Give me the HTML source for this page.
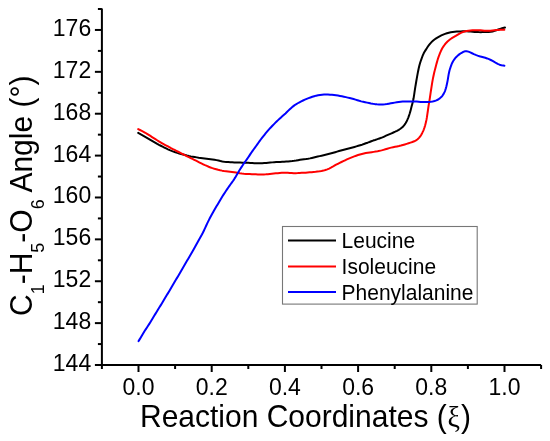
<!DOCTYPE html>
<html><head><meta charset="utf-8"><style>
html,body{margin:0;padding:0;background:#fff;}
svg{display:block;}
.tl{font-family:"Liberation Sans",sans-serif;font-size:23px;fill:#000;}
.ti{font-family:"Liberation Sans",sans-serif;font-size:30px;fill:#000;}
.lg{font-family:"Liberation Sans",sans-serif;font-size:21px;fill:#000;}
</style></head><body>
<svg width="550" height="441" viewBox="0 0 550 441">
<rect width="550" height="441" fill="#fff"/>
<line x1="101.10" y1="365.0" x2="541.10" y2="365.0" stroke="#000" stroke-width="2"/>
<line x1="101.90" y1="8.42" x2="101.90" y2="365.0" stroke="#000" stroke-width="2"/>
<line x1="94.90" y1="365.00" x2="101.90" y2="365.00" stroke="#000" stroke-width="2"/>
<text transform="translate(91.20,371.00) scale(1,1.04)" text-anchor="end" class="tl">144</text>
<line x1="97.90" y1="344.06" x2="101.90" y2="344.06" stroke="#000" stroke-width="2"/>
<line x1="94.90" y1="323.12" x2="101.90" y2="323.12" stroke="#000" stroke-width="2"/>
<text transform="translate(91.20,329.12) scale(1,1.04)" text-anchor="end" class="tl">148</text>
<line x1="97.90" y1="302.18" x2="101.90" y2="302.18" stroke="#000" stroke-width="2"/>
<line x1="94.90" y1="281.24" x2="101.90" y2="281.24" stroke="#000" stroke-width="2"/>
<text transform="translate(91.20,287.24) scale(1,1.04)" text-anchor="end" class="tl">152</text>
<line x1="97.90" y1="260.30" x2="101.90" y2="260.30" stroke="#000" stroke-width="2"/>
<line x1="94.90" y1="239.36" x2="101.90" y2="239.36" stroke="#000" stroke-width="2"/>
<text transform="translate(91.20,245.36) scale(1,1.04)" text-anchor="end" class="tl">156</text>
<line x1="97.90" y1="218.42" x2="101.90" y2="218.42" stroke="#000" stroke-width="2"/>
<line x1="94.90" y1="197.48" x2="101.90" y2="197.48" stroke="#000" stroke-width="2"/>
<text transform="translate(91.20,203.48) scale(1,1.04)" text-anchor="end" class="tl">160</text>
<line x1="97.90" y1="176.54" x2="101.90" y2="176.54" stroke="#000" stroke-width="2"/>
<line x1="94.90" y1="155.60" x2="101.90" y2="155.60" stroke="#000" stroke-width="2"/>
<text transform="translate(91.20,161.60) scale(1,1.04)" text-anchor="end" class="tl">164</text>
<line x1="97.90" y1="134.66" x2="101.90" y2="134.66" stroke="#000" stroke-width="2"/>
<line x1="94.90" y1="113.72" x2="101.90" y2="113.72" stroke="#000" stroke-width="2"/>
<text transform="translate(91.20,119.72) scale(1,1.04)" text-anchor="end" class="tl">168</text>
<line x1="97.90" y1="92.78" x2="101.90" y2="92.78" stroke="#000" stroke-width="2"/>
<line x1="94.90" y1="71.84" x2="101.90" y2="71.84" stroke="#000" stroke-width="2"/>
<text transform="translate(91.20,77.84) scale(1,1.04)" text-anchor="end" class="tl">172</text>
<line x1="97.90" y1="50.90" x2="101.90" y2="50.90" stroke="#000" stroke-width="2"/>
<line x1="94.90" y1="29.96" x2="101.90" y2="29.96" stroke="#000" stroke-width="2"/>
<text transform="translate(91.20,35.96) scale(1,1.04)" text-anchor="end" class="tl">176</text>
<line x1="97.90" y1="9.02" x2="101.90" y2="9.02" stroke="#000" stroke-width="2"/>
<line x1="101.90" y1="365.0" x2="101.90" y2="369.0" stroke="#000" stroke-width="2"/>
<line x1="138.50" y1="365.0" x2="138.50" y2="372.0" stroke="#000" stroke-width="2"/>
<text transform="translate(138.50,395.30) scale(1,1.04)" text-anchor="middle" class="tl">0.0</text>
<line x1="175.10" y1="365.0" x2="175.10" y2="369.0" stroke="#000" stroke-width="2"/>
<line x1="211.70" y1="365.0" x2="211.70" y2="372.0" stroke="#000" stroke-width="2"/>
<text transform="translate(211.70,395.30) scale(1,1.04)" text-anchor="middle" class="tl">0.2</text>
<line x1="248.30" y1="365.0" x2="248.30" y2="369.0" stroke="#000" stroke-width="2"/>
<line x1="284.90" y1="365.0" x2="284.90" y2="372.0" stroke="#000" stroke-width="2"/>
<text transform="translate(284.90,395.30) scale(1,1.04)" text-anchor="middle" class="tl">0.4</text>
<line x1="321.50" y1="365.0" x2="321.50" y2="369.0" stroke="#000" stroke-width="2"/>
<line x1="358.10" y1="365.0" x2="358.10" y2="372.0" stroke="#000" stroke-width="2"/>
<text transform="translate(358.10,395.30) scale(1,1.04)" text-anchor="middle" class="tl">0.6</text>
<line x1="394.70" y1="365.0" x2="394.70" y2="369.0" stroke="#000" stroke-width="2"/>
<line x1="431.30" y1="365.0" x2="431.30" y2="372.0" stroke="#000" stroke-width="2"/>
<text transform="translate(431.30,395.30) scale(1,1.04)" text-anchor="middle" class="tl">0.8</text>
<line x1="467.90" y1="365.0" x2="467.90" y2="369.0" stroke="#000" stroke-width="2"/>
<line x1="504.50" y1="365.0" x2="504.50" y2="372.0" stroke="#000" stroke-width="2"/>
<text transform="translate(504.50,395.30) scale(1,1.04)" text-anchor="middle" class="tl">1.0</text>
<line x1="541.10" y1="365.0" x2="541.10" y2="369.0" stroke="#000" stroke-width="2"/>
<path d="M138.20,132.90 L139.96,133.85 L141.71,134.81 L143.46,135.78 L145.20,136.77 L146.92,137.79 L148.64,138.81 L150.36,139.83 L152.08,140.85 L153.79,141.88 L155.50,142.92 L157.22,143.93 L158.98,144.88 L160.77,145.77 L162.57,146.65 L164.35,147.55 L166.14,148.44 L167.95,149.31 L169.77,150.13 L171.61,150.91 L173.48,151.62 L175.37,152.27 L177.27,152.87 L179.20,153.42 L181.13,153.94 L183.06,154.45 L184.99,154.98 L186.91,155.52 L188.84,156.01 L190.80,156.39 L192.77,156.71 L194.74,157.04 L196.71,157.39 L198.69,157.71 L200.67,157.97 L202.65,158.22 L204.63,158.50 L206.61,158.76 L208.60,159.00 L210.59,159.21 L212.57,159.45 L214.55,159.74 L216.51,160.11 L218.46,160.56 L220.40,161.02 L222.36,161.42 L224.33,161.74 L226.31,161.95 L228.30,162.06 L230.30,162.15 L232.30,162.27 L234.29,162.38 L236.29,162.47 L238.29,162.54 L240.29,162.61 L242.29,162.67 L244.29,162.74 L246.29,162.81 L248.28,162.87 L250.28,162.94 L252.28,163.03 L254.28,163.14 L256.27,163.26 L258.27,163.36 L260.26,163.37 L262.26,163.28 L264.25,163.12 L266.24,162.95 L268.23,162.77 L270.22,162.57 L272.21,162.37 L274.21,162.21 L276.20,162.09 L278.20,162.00 L280.20,161.91 L282.19,161.81 L284.19,161.69 L286.19,161.57 L288.18,161.43 L290.18,161.29 L292.17,161.11 L294.15,160.86 L296.12,160.55 L298.08,160.16 L300.04,159.79 L302.02,159.51 L304.00,159.30 L305.98,159.05 L307.96,158.74 L309.92,158.36 L311.87,157.92 L313.81,157.45 L315.76,156.99 L317.71,156.54 L319.66,156.12 L321.62,155.70 L323.57,155.27 L325.52,154.82 L327.46,154.34 L329.40,153.83 L331.32,153.31 L333.25,152.75 L335.16,152.18 L337.08,151.61 L339.00,151.06 L340.93,150.52 L342.86,150.00 L344.79,149.49 L346.72,148.97 L348.65,148.45 L350.59,147.95 L352.53,147.46 L354.46,146.94 L356.38,146.39 L358.30,145.82 L360.22,145.27 L362.12,144.69 L363.97,143.98 L365.79,143.27 L367.65,142.68 L369.48,142.02 L371.28,141.24 L373.12,140.58 L374.99,140.03 L376.85,139.37 L378.70,138.68 L380.58,138.05 L382.43,137.37 L384.25,136.55 L386.05,135.70 L387.88,134.89 L389.72,134.11 L391.56,133.32 L393.39,132.51 L395.21,131.69 L397.01,130.82 L398.75,129.86 L400.43,128.78 L401.99,127.57 L403.39,126.17 L404.63,124.62 L405.71,122.95 L406.68,121.21 L407.54,119.41 L408.31,117.57 L409.00,115.69 L409.62,113.79 L410.19,111.88 L410.72,109.95 L411.21,108.01 L411.70,106.07 L412.21,104.14 L412.71,102.20 L413.18,100.26 L413.57,98.30 L413.90,96.33 L414.20,94.35 L414.49,92.38 L414.79,90.40 L415.09,88.42 L415.41,86.45 L415.74,84.47 L416.07,82.50 L416.40,80.53 L416.74,78.56 L417.09,76.59 L417.46,74.62 L417.83,72.66 L418.21,70.69 L418.62,68.74 L419.08,66.79 L419.57,64.85 L420.11,62.93 L420.74,61.04 L421.41,59.15 L422.08,57.27 L422.78,55.40 L423.60,53.59 L424.56,51.85 L425.60,50.14 L426.65,48.44 L427.74,46.76 L428.90,45.14 L430.15,43.59 L431.49,42.11 L432.93,40.74 L434.48,39.48 L436.11,38.34 L437.81,37.30 L439.57,36.35 L441.36,35.46 L443.18,34.65 L445.04,33.91 L446.92,33.25 L448.84,32.69 L450.78,32.25 L452.75,31.94 L454.74,31.74 L456.73,31.60 L458.73,31.48 L460.73,31.38 L462.73,31.31 L464.72,31.28 L466.72,31.33 L468.72,31.44 L470.71,31.59 L472.70,31.77 L474.69,31.93 L476.69,32.05 L478.69,32.12 L480.69,32.13 L482.68,32.09 L484.68,32.04 L486.68,32.00 L488.68,31.95 L490.66,31.78 L492.61,31.43 L494.52,30.88 L496.41,30.22 L498.28,29.53 L500.17,28.86 L502.08,28.27 L504.01,27.75 L504.97,27.51" fill="none" stroke="#000" stroke-width="2.0" stroke-linejoin="round" stroke-linecap="round"/>
<path d="M138.20,129.10 L139.99,129.98 L141.79,130.87 L143.56,131.79 L145.31,132.76 L147.03,133.78 L148.72,134.84 L150.38,135.95 L152.04,137.07 L153.71,138.16 L155.41,139.22 L157.12,140.26 L158.83,141.29 L160.55,142.32 L162.27,143.33 L164.02,144.31 L165.77,145.26 L167.53,146.22 L169.28,147.19 L171.03,148.15 L172.81,149.07 L174.59,149.97 L176.38,150.86 L178.17,151.76 L179.95,152.67 L181.73,153.58 L183.51,154.49 L185.30,155.39 L187.08,156.29 L188.87,157.18 L190.67,158.07 L192.46,158.95 L194.26,159.83 L196.05,160.73 L197.83,161.62 L199.62,162.53 L201.40,163.42 L203.20,164.30 L205.01,165.15 L206.84,165.96 L208.68,166.73 L210.54,167.46 L212.43,168.12 L214.34,168.71 L216.26,169.25 L218.20,169.77 L220.14,170.24 L222.09,170.64 L224.07,170.96 L226.05,171.21 L228.04,171.43 L230.02,171.65 L232.00,171.91 L233.98,172.22 L235.95,172.58 L237.91,172.94 L239.88,173.28 L241.86,173.57 L243.85,173.78 L245.84,173.91 L247.84,174.01 L249.83,174.09 L251.83,174.18 L253.83,174.26 L255.83,174.34 L257.83,174.41 L259.83,174.47 L261.83,174.48 L263.82,174.44 L265.82,174.32 L267.81,174.14 L269.80,173.95 L271.79,173.76 L273.78,173.56 L275.77,173.36 L277.76,173.15 L279.75,172.97 L281.74,172.82 L283.74,172.74 L285.74,172.73 L287.73,172.80 L289.73,172.92 L291.72,173.06 L293.72,173.16 L295.71,173.17 L297.70,173.06 L299.68,172.89 L301.67,172.81 L303.66,172.79 L305.65,172.69 L307.64,172.50 L309.63,172.30 L311.62,172.14 L313.62,171.98 L315.61,171.82 L317.60,171.61 L319.58,171.36 L321.55,171.03 L323.49,170.59 L325.41,170.04 L327.29,169.37 L329.12,168.58 L330.91,167.69 L332.66,166.74 L334.39,165.73 L336.12,164.74 L337.89,163.80 L339.67,162.90 L341.47,162.02 L343.27,161.15 L345.07,160.28 L346.88,159.43 L348.70,158.60 L350.54,157.82 L352.40,157.08 L354.27,156.37 L356.15,155.69 L358.04,155.05 L359.95,154.48 L361.89,153.96 L363.83,153.51 L365.79,153.10 L367.76,152.74 L369.73,152.44 L371.71,152.16 L373.69,151.87 L375.67,151.56 L377.64,151.22 L379.60,150.83 L381.54,150.38 L383.47,149.84 L385.38,149.26 L387.29,148.68 L389.21,148.12 L391.15,147.62 L393.10,147.19 L395.06,146.81 L397.02,146.43 L398.98,146.03 L400.92,145.57 L402.85,145.04 L404.77,144.48 L406.68,143.89 L408.59,143.29 L410.49,142.67 L412.38,142.03 L414.24,141.30 L416.01,140.43 L417.60,139.30 L419.00,137.91 L420.22,136.35 L421.29,134.67 L422.25,132.92 L423.11,131.12 L423.87,129.28 L424.53,127.39 L425.11,125.48 L425.62,123.55 L426.09,121.61 L426.50,119.65 L426.85,117.68 L427.15,115.71 L427.44,113.73 L427.72,111.75 L428.00,109.77 L428.27,107.79 L428.57,105.81 L428.90,103.84 L429.24,101.87 L429.57,99.89 L429.88,97.92 L430.17,95.94 L430.46,93.96 L430.75,91.98 L431.05,90.00 L431.34,88.03 L431.65,86.05 L431.96,84.07 L432.29,82.10 L432.64,80.13 L433.01,78.17 L433.42,76.21 L433.85,74.26 L434.29,72.31 L434.77,70.37 L435.27,68.43 L435.79,66.50 L436.30,64.57 L436.82,62.63 L437.35,60.71 L437.94,58.80 L438.58,56.90 L439.26,55.02 L439.99,53.16 L440.77,51.32 L441.61,49.51 L442.56,47.77 L443.66,46.10 L444.84,44.50 L446.12,42.98 L447.51,41.55 L449.00,40.22 L450.58,39.01 L452.25,37.93 L453.98,36.95 L455.71,35.96 L457.41,34.91 L459.12,33.87 L460.88,32.94 L462.71,32.16 L464.59,31.52 L466.52,31.05 L468.49,30.74 L470.47,30.52 L472.46,30.37 L474.46,30.27 L476.46,30.22 L478.46,30.23 L480.45,30.32 L482.44,30.49 L484.43,30.67 L486.42,30.76 L488.42,30.77 L490.41,30.68 L492.40,30.50 L494.39,30.28 L496.38,30.07 L498.37,29.89 L500.36,29.76 L502.36,29.71 L504.36,29.70" fill="none" stroke="#f00" stroke-width="2.0" stroke-linejoin="round" stroke-linecap="round"/>
<path d="M138.60,341.10 L139.62,339.38 L140.64,337.66 L141.65,335.94 L142.68,334.22 L143.71,332.50 L144.77,330.81 L145.87,329.14 L146.97,327.47 L148.06,325.79 L149.14,324.11 L150.19,322.41 L151.24,320.71 L152.29,319.00 L153.33,317.30 L154.36,315.58 L155.39,313.87 L156.42,312.15 L157.46,310.44 L158.51,308.74 L159.58,307.05 L160.64,305.36 L161.68,303.65 L162.69,301.92 L163.71,300.20 L164.74,298.49 L165.78,296.78 L166.83,295.08 L167.87,293.37 L168.90,291.66 L169.92,289.94 L170.93,288.21 L171.94,286.48 L172.96,284.76 L173.98,283.04 L175.00,281.32 L176.02,279.60 L177.05,277.89 L178.07,276.16 L179.08,274.44 L180.09,272.71 L181.10,270.99 L182.11,269.26 L183.12,267.53 L184.12,265.81 L185.13,264.08 L186.13,262.35 L187.13,260.61 L188.13,258.88 L189.13,257.15 L190.14,255.42 L191.15,253.70 L192.16,251.97 L193.16,250.24 L194.14,248.50 L195.11,246.75 L196.07,244.99 L197.04,243.24 L198.01,241.49 L198.99,239.75 L199.97,238.01 L200.96,236.27 L201.93,234.52 L202.85,232.75 L203.73,230.95 L204.58,229.14 L205.42,227.33 L206.27,225.52 L207.12,223.70 L207.97,221.90 L208.85,220.10 L209.77,218.32 L210.71,216.56 L211.67,214.81 L212.64,213.06 L213.62,211.31 L214.61,209.58 L215.62,207.85 L216.63,206.12 L217.64,204.40 L218.66,202.68 L219.68,200.96 L220.71,199.24 L221.74,197.53 L222.79,195.83 L223.87,194.14 L224.97,192.47 L226.07,190.81 L227.18,189.14 L228.31,187.49 L229.44,185.84 L230.60,184.22 L231.79,182.60 L232.96,180.99 L234.09,179.34 L235.13,177.63 L236.13,175.90 L237.12,174.17 L238.14,172.45 L239.19,170.74 L240.25,169.05 L241.31,167.35 L242.39,165.67 L243.50,164.01 L244.66,162.38 L245.83,160.76 L247.00,159.13 L248.13,157.49 L249.24,155.83 L250.34,154.15 L251.45,152.49 L252.58,150.84 L253.76,149.22 L254.95,147.62 L256.13,146.01 L257.29,144.38 L258.43,142.74 L259.59,141.11 L260.78,139.50 L261.99,137.91 L263.22,136.33 L264.47,134.77 L265.75,133.23 L267.03,131.70 L268.34,130.19 L269.67,128.70 L271.03,127.23 L272.40,125.77 L273.79,124.33 L275.20,122.91 L276.62,121.51 L278.07,120.13 L279.54,118.77 L281.02,117.43 L282.51,116.10 L284.01,114.77 L285.48,113.42 L286.92,112.03 L288.33,110.62 L289.77,109.23 L291.25,107.89 L292.78,106.60 L294.36,105.39 L296.02,104.28 L297.73,103.25 L299.48,102.28 L301.25,101.36 L303.04,100.48 L304.86,99.65 L306.70,98.86 L308.56,98.13 L310.43,97.44 L312.33,96.79 L314.23,96.19 L316.15,95.66 L318.10,95.23 L320.07,94.91 L322.06,94.67 L324.05,94.52 L326.04,94.47 L328.04,94.51 L330.03,94.64 L332.02,94.83 L334.01,95.07 L335.99,95.32 L337.97,95.60 L339.95,95.92 L341.91,96.29 L343.87,96.70 L345.82,97.15 L347.76,97.62 L349.70,98.09 L351.64,98.57 L353.58,99.07 L355.51,99.60 L357.42,100.19 L359.32,100.80 L361.23,101.36 L363.18,101.81 L365.13,102.22 L367.09,102.64 L369.04,103.07 L371.00,103.48 L372.96,103.84 L374.94,104.13 L376.93,104.32 L378.92,104.44 L380.92,104.47 L382.91,104.41 L384.90,104.24 L386.88,103.98 L388.85,103.65 L390.82,103.30 L392.79,102.95 L394.76,102.62 L396.74,102.31 L398.72,102.02 L400.70,101.77 L402.69,101.61 L404.68,101.53 L406.68,101.48 L408.68,101.45 L410.68,101.43 L412.68,101.45 L414.68,101.51 L416.68,101.62 L418.67,101.77 L420.66,101.92 L422.66,102.03 L424.66,102.10 L426.65,102.09 L428.64,101.96 L430.63,101.74 L432.60,101.45 L434.54,101.03 L436.41,100.39 L438.17,99.49 L439.80,98.37 L441.26,97.04 L442.55,95.55 L443.63,93.89 L444.51,92.12 L445.25,90.27 L445.85,88.37 L446.36,86.44 L446.82,84.50 L447.24,82.54 L447.62,80.58 L447.96,78.61 L448.28,76.63 L448.61,74.66 L448.99,72.70 L449.44,70.76 L450.00,68.84 L450.63,66.94 L451.30,65.06 L452.04,63.21 L452.93,61.44 L454.00,59.77 L455.21,58.19 L456.55,56.71 L458.00,55.36 L459.56,54.13 L461.22,53.01 L462.93,52.02 L464.72,51.33 L466.57,51.19 L468.43,51.63 L470.24,52.41 L472.04,53.26 L473.86,54.09 L475.70,54.87 L477.56,55.59 L479.46,56.22 L481.38,56.78 L483.31,57.30 L485.23,57.82 L487.13,58.43 L488.99,59.16 L490.80,59.99 L492.57,60.91 L494.29,61.92 L495.98,62.98 L497.70,63.94 L499.53,64.67 L501.45,65.18 L503.41,65.58 L504.39,65.77" fill="none" stroke="#00f" stroke-width="2.0" stroke-linejoin="round" stroke-linecap="round"/>
<text transform="translate(140,427.3) scale(1,1.04)" class="ti">Reaction Coordinates (<tspan font-family="Liberation Serif" font-size="28" dx="0.8">ξ</tspan><tspan dx="1">)</tspan></text>
<rect x="282.5" y="226.5" width="194.7" height="77.6" fill="#fff" stroke="#777" stroke-width="1.1"/>
<line x1="288" y1="240.5" x2="336" y2="240.5" stroke="#000" stroke-width="2"/>
<line x1="288" y1="266.5" x2="336" y2="266.5" stroke="#f00" stroke-width="2"/>
<line x1="288" y1="292" x2="336" y2="292" stroke="#00f" stroke-width="2"/>
<text transform="translate(341.6,248) scale(1,1.04)" class="lg">Leucine</text>
<text transform="translate(341.6,274) scale(1,1.04)" class="lg">Isoleucine</text>
<text transform="translate(341.6,299.5) scale(1,1.04)" class="lg">Phenylalanine</text>
<g transform="translate(32.2,316) rotate(-90) scale(1,1.04)"><text x="0" y="0" class="ti">C<tspan font-size="18" dy="11.5">1</tspan><tspan dy="-11.5">-H</tspan><tspan font-size="18" dy="11.5">5</tspan><tspan dy="-11.5">-O</tspan><tspan font-size="18" dy="11.5">6</tspan><tspan dy="-11.5"> Angle (°)</tspan></text></g>
</svg>
</body></html>
